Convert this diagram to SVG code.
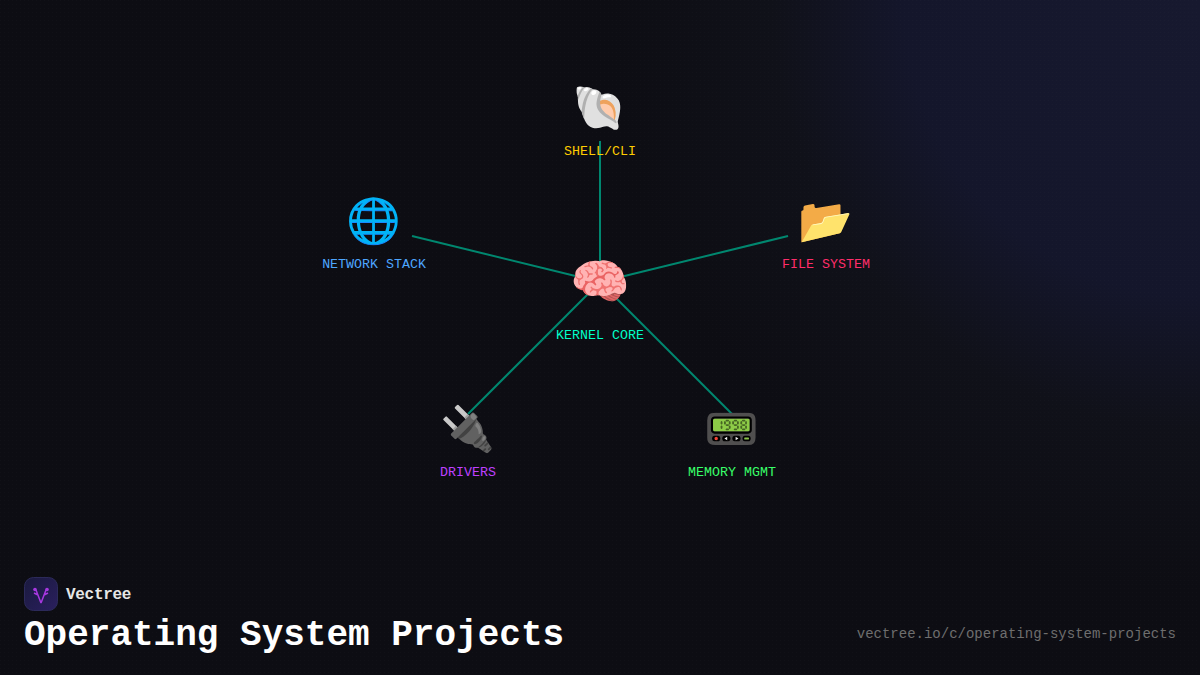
<svg xmlns="http://www.w3.org/2000/svg" width="1200" height="675" viewBox="0 0 1200 675">
<defs>
<radialGradient id="glow" gradientUnits="userSpaceOnUse" cx="1200" cy="0" r="740">
<stop offset="0" stop-color="#17192f"/><stop offset="0.4" stop-color="#14162b"/><stop offset="0.58" stop-color="#101119"/><stop offset="0.8" stop-color="#0d0d13"/>
</radialGradient>
<linearGradient id="badge" x1="0" y1="0" x2="1" y2="1"><stop offset="0" stop-color="#1a1a3e"/><stop offset="1" stop-color="#2a1f5e"/></linearGradient>
<pattern id="dots" width="4" height="4" patternUnits="userSpaceOnUse"><rect width="1" height="1" fill="#ffffff" fill-opacity="0.015"/></pattern>
</defs>
<style>
.lbl{font-family:"Liberation Mono",monospace;font-size:13.300px;text-anchor:middle}
.emo{font-family:"Noto Color Emoji","Noto Sans",sans-serif;font-size:44px;text-anchor:middle}
.edge{stroke:#00876f;stroke-width:2;fill:none}
</style>
<rect width="1200" height="675" fill="url(#glow)"/>
<rect width="1200" height="675" fill="url(#dots)"/>
<g id="connectors">
<line class="edge" x1="600" y1="282" x2="600" y2="141"/>
<line class="edge" x1="600" y1="282" x2="788" y2="236"/>
<line class="edge" x1="600" y1="282" x2="732" y2="414"/>
<line class="edge" x1="600" y1="282" x2="468" y2="414"/>
<line class="edge" x1="600" y1="282" x2="412" y2="236"/>
</g>
<g id="node-shell"><text class="emo" x="600" y="123">🐚</text><text class="lbl" x="600" y="155" fill="#ffcc00">SHELL/CLI</text></g>
<g id="node-files"><text class="emo" x="826" y="236">📂</text><text class="lbl" x="826" y="268" fill="#ff2d6a">FILE SYSTEM</text></g>
<g id="node-memory"><text class="emo" x="732" y="444">📟</text><text class="lbl" x="732" y="476" fill="#39ff6a">MEMORY MGMT</text></g>
<g id="node-drivers"><text class="emo" x="468" y="444">🔌</text><text class="lbl" x="468" y="476" fill="#bf40ff">DRIVERS</text></g>
<g id="node-network"><text class="emo" x="374" y="236">🌐</text><text class="lbl" x="374" y="268" fill="#4da6ff">NETWORK STACK</text></g>
<g id="node-kernel"><text class="emo" x="600" y="298" style="font-size:48px">🧠</text><text class="lbl" x="600" y="339" fill="#00ffc8">KERNEL CORE</text></g>
<g id="brand">
<rect x="24.500" y="577.500" width="33" height="33" rx="9" fill="url(#badge)" stroke="#2c2a5a"/>
<g stroke="#a838e0" stroke-width="1.500" fill="none"><path d="M41 603L36 590M41 603L46 590M38 595L34 593M44 595L48 593"/></g>
<circle cx="35" cy="589.500" r="1.800" fill="#a838e0"/><circle cx="47" cy="589.500" r="1.800" fill="#a838e0"/>
<text x="66" y="599" font-family="'Liberation Mono',monospace" font-size="16" letter-spacing="-0.3" font-weight="700" fill="#e6e6e6">Vectree</text>
<text x="24" y="645" font-family="'Liberation Mono',monospace" font-size="36" font-weight="700" fill="#ffffff">Operating System Projects</text>
<text x="1176" y="638" font-family="'Liberation Mono',monospace" font-size="14" fill="#6e6e6e" text-anchor="end">vectree.io/c/operating-system-projects</text>
</g>
</svg>
